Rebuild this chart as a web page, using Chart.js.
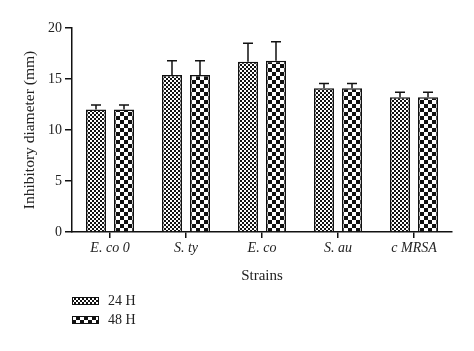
<!DOCTYPE html>
<html>
<head>
<meta charset="utf-8">
<script src="https://cdn.jsdelivr.net/npm/chart.js@4.4.1/dist/chart.umd.min.js"></script>
<style>
  html, body { margin: 0; padding: 0; background: #fff; }
  #wrap { width: 474px; height: 351px; position: relative; }
</style>
</head>
<body>
<div id="wrap"><canvas id="chart" width="474" height="351"></canvas></div>
<script>
// data
var strains = ['E. co 0', 'S. ty', 'E. co', 'S. au', 'c MRSA'];
var seriesLabels = ['24 H', '48 H'];
var mean24 = [12.0, 15.4, 16.7, 14.1, 13.2];
var mean48 = [12.0, 15.4, 16.8, 14.1, 13.2];
var err24 = [0.45, 1.4, 1.8, 0.45, 0.5];
var err48 = [0.45, 1.4, 1.85, 0.45, 0.5];
var yTicks = [0, 5, 10, 15, 20];

var serif = "'Liberation Serif', 'Times New Roman', serif";

function makeChecker(size) {
  var c = document.createElement('canvas');
  c.width = size * 2; c.height = size * 2;
  var g = c.getContext('2d');
  g.fillStyle = '#fff';
  g.fillRect(0, 0, size * 2, size * 2);
  g.fillStyle = '#111';
  g.fillRect(0, 0, size, size);
  g.fillRect(size, size, size, size);
  return g.createPattern(c, 'repeat');
}
var ctx = document.getElementById('chart').getContext('2d');
var fineFill = makeChecker(2);
var coarseFill = makeChecker(4);

var errorBars = {
  id: 'errorBars',
  afterDatasetsDraw: function (chart) {
    var g = chart.ctx;
    var yScale = chart.scales.y;
    var errs = [err24, err48];
    g.save();
    g.strokeStyle = '#111';
    g.lineWidth = 1.5;
    chart.data.datasets.forEach(function (ds, di) {
      var meta = chart.getDatasetMeta(di);
      meta.data.forEach(function (bar, i) {
        var top = yScale.getPixelForValue(ds.data[i] + errs[di][i]);
        var x = bar.x;
        g.beginPath();
        g.moveTo(x, bar.y);
        g.lineTo(x, top);
        g.moveTo(x - 5, top);
        g.lineTo(x + 5, top);
        g.stroke();
      });
    });
    g.restore();
  }
};

var sideLegend = {
  id: 'sideLegend',
  afterDraw: function (chart) {
    var g = chart.ctx;
    g.save();
    chart.data.datasets.forEach(function (ds, i) {
      var y = 297 + i * 19;
      g.fillStyle = ds.backgroundColor;
      g.fillRect(72, y, 27, 8);
      g.strokeStyle = '#111';
      g.lineWidth = 1;
      g.strokeRect(72.5, y + 0.5, 26, 7);
      g.fillStyle = '#222';
      g.font = '14px ' + serif;
      g.textBaseline = 'middle';
      g.fillText(ds.label, 108, y + 4.5);
    });
    g.restore();
  }
};

new Chart(ctx, {
  type: 'bar',
  data: {
    labels: strains,
    datasets: [{
      label: seriesLabels[0],
      data: mean24,
      backgroundColor: fineFill,
      borderColor: '#111',
      borderWidth: 1.5,
      categoryPercentage: 0.737,
      barPercentage: 0.714
    }, {
      label: seriesLabels[1],
      data: mean48,
      backgroundColor: coarseFill,
      borderColor: '#111',
      borderWidth: 1.5,
      categoryPercentage: 0.737,
      barPercentage: 0.714
    }]
  },
  options: {
    responsive: false,
    animation: false,
    layout: { padding: { top: 28, right: 22, bottom: 64, left: 21 } },
    plugins: {
      legend: { display: false },
      tooltip: { enabled: false }
    },
    scales: {
      x: {
        grid: { display: true, offset: false, drawOnChartArea: false, drawTicks: true, tickLength: 6, color: '#111', lineWidth: 1.5 },
        border: { display: true, color: '#111', width: 1.5 },
        ticks: { color: '#222', font: { family: serif, size: 14, style: 'italic' }, padding: 2, maxRotation: 0 },
        title: { display: true, text: 'Strains', color: '#222', font: { family: serif, size: 15 }, padding: { top: 4, bottom: 2 } },
        afterFit: function (scale) { scale.height = 55; }
      },
      y: {
        min: 0,
        max: 20,
        afterBuildTicks: function (scale) {
          scale.ticks = yTicks.map(function (v) { return { value: v }; });
        },
        grid: { display: true, drawOnChartArea: false, drawTicks: true, tickLength: 7, color: '#111', lineWidth: 1.5 },
        border: { display: true, color: '#111', width: 1.5 },
        ticks: { color: '#222', font: { family: serif, size: 14 }, padding: 3 },
        title: { display: true, text: 'Inhibitory diameter (mm)', color: '#222', font: { family: serif, size: 15.5 }, padding: { top: 0, bottom: 0 } },
        afterFit: function (scale) { scale.width = 51; }
      }
    }
  },
  plugins: [errorBars, sideLegend]
});
</script>
</body>
</html>
